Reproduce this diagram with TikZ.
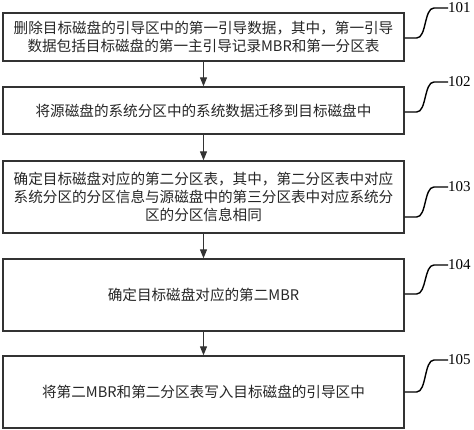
\documentclass[tikz,border=0pt]{standalone}
\usepackage{fontspec}
\newfontfamily\cjk{Noto Sans CJK SC}
\setmainfont{Liberation Serif}
\usetikzlibrary{arrows.meta,calc}
\definecolor{linec}{HTML}{333333}
\begin{document}
\begin{tikzpicture}[x=1pt,y=-1pt,
  stepbox/.style={draw=linec, line width=1.3pt, minimum width=401pt, inner sep=0pt,
    align=center, font=\cjk\fontsize{14.6}{18}\selectfont, text=black!85},
  flow/.style={draw=linec, line width=1.1pt, -{Triangle[length=9pt,width=7pt]}},
  lead/.style={draw=black, line width=1.4pt},
  lbl/.style={anchor=west, inner sep=0pt, font=\fontsize{15}{15}\selectfont}]
\useasboundingbox (0,0) rectangle (474,430);
\node[stepbox, minimum height=48pt] (b1) at (203.5,37)
  {删除目标磁盘的引导区中的第一引导数据，其中，第一引导\\数据包括目标磁盘的第一主引导记录MBR和第一分区表};
\node[stepbox, minimum height=47pt] (b2) at (203.5,110.5)
  {将源磁盘的系统分区中的系统数据迁移到目标磁盘中};
\node[stepbox, minimum height=72pt] (b3) at (203.5,197)
  {确定目标磁盘对应的第二分区表，其中，第二分区表中对应\\系统分区的分区信息与源磁盘中的第三分区表中对应系统分\\区的分区信息相同};
\node[stepbox, minimum height=72pt] (b4) at (203.5,295)
  {确定目标磁盘对应的第二MBR};
\node[stepbox, minimum height=72pt] (b5) at (203.5,392)
  {将第二MBR和第二分区表写入目标磁盘的引导区中};
\draw[flow] (b1) -- (b2);
\draw[flow] (b2) -- (b3);
\draw[flow] (b3) -- (b4);
\draw[flow] (b4) -- (b5);
\node[lbl] (l1) at (448,8) {101};
\node[lbl] (l2) at (448,82) {102};
\node[lbl] (l3) at (448,187) {103};
\node[lbl] (l4) at (448,265) {104};
\node[lbl] (l5) at (448,360) {105};
\foreach \b/\l/\yb in {b1/l1/38, b2/l2/112, b3/l3/217, b4/l4/294, b5/l5/392}{
  \path (\l.west) coordinate (t\l);
  \draw[lead] (\b.east |- 0,\yb) -- ++(12,0)
     .. controls ++(10,0) and ($(t\l)+(-24,0)$) .. ($(t\l)+(-14,0)$) -- (t\l);
}
\end{tikzpicture}
\end{document}
